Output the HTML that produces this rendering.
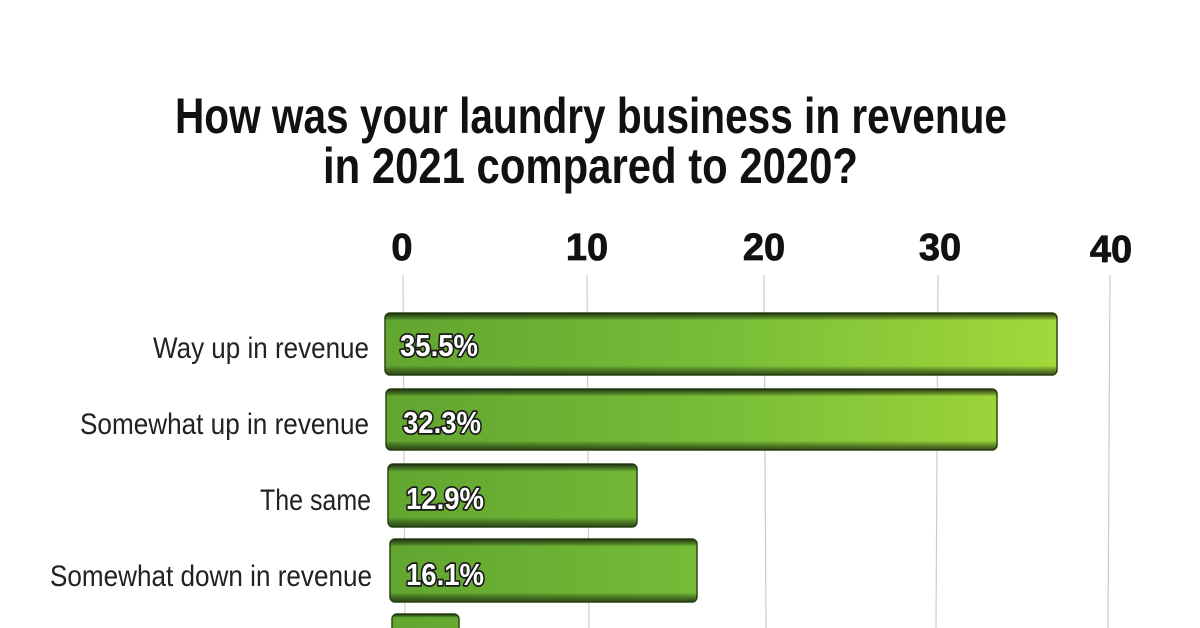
<!DOCTYPE html>
<html><head><meta charset="utf-8"><style>
html,body{margin:0;padding:0;background:#fff;width:1200px;height:628px;overflow:hidden}
</style></head><body>
<svg width="1200" height="628" viewBox="0 0 1200 628" xmlns="http://www.w3.org/2000/svg">
<defs>
<linearGradient id="g" gradientUnits="userSpaceOnUse" x1="385" y1="0" x2="1057" y2="0">
<stop offset="0" stop-color="#62a530"/><stop offset="0.5" stop-color="#78bd38"/><stop offset="1" stop-color="#a2d83a"/>
</linearGradient>
<linearGradient id="v" x1="0" y1="0" x2="0" y2="1">
<stop offset="0" stop-color="#1c2a10" stop-opacity="0.9"/><stop offset="0.12" stop-color="#000" stop-opacity="0"/>
<stop offset="0.85" stop-color="#000" stop-opacity="0"/><stop offset="1" stop-color="#203010" stop-opacity="0.8"/>
</linearGradient>
</defs>
<g font-family="Liberation Sans, sans-serif" font-weight="bold" fill="#111">
<text x="175" y="133" font-size="50" textLength="832" lengthAdjust="spacingAndGlyphs">How was your laundry business in revenue</text>
<text x="323" y="183" font-size="50" textLength="535" lengthAdjust="spacingAndGlyphs">in 2021 compared to 2020?</text>
<g font-size="38" text-anchor="middle" stroke="#111" stroke-width="0.8">
<text x="402" y="260">0</text><text x="587" y="260">10</text><text x="764" y="260">20</text><text x="940" y="260">30</text><text x="1111" y="262">40</text>
</g>
</g>
<g stroke="#ccc" stroke-width="1.2">
<line x1="403" y1="275" x2="405" y2="628"/><line x1="587" y1="275" x2="589" y2="628"/><line x1="764" y1="275" x2="766" y2="628"/><line x1="938" y1="275" x2="936" y2="628"/><line x1="1110" y1="275" x2="1108" y2="628"/>
</g>
<g font-family="Liberation Sans, sans-serif" font-size="30" fill="#222" text-anchor="end">
<text x="369" y="358" textLength="216" lengthAdjust="spacingAndGlyphs">Way up in revenue</text>
<text x="369" y="434" textLength="289" lengthAdjust="spacingAndGlyphs">Somewhat up in revenue</text>
<text x="371" y="510" textLength="111" lengthAdjust="spacingAndGlyphs">The same</text>
<text x="372" y="586" textLength="322" lengthAdjust="spacingAndGlyphs">Somewhat down in revenue</text>
</g>
<g>
<rect x="385" y="313" width="672" height="62" rx="5" fill="url(#g)" stroke="#2d4a16" stroke-width="1.5"/>
<rect x="385" y="313" width="672" height="62" rx="5" fill="url(#v)"/>
<rect x="386" y="389" width="611" height="61" rx="5" fill="url(#g)" stroke="#2d4a16" stroke-width="1.5"/>
<rect x="386" y="389" width="611" height="61" rx="5" fill="url(#v)"/>
<rect x="388" y="464" width="249" height="63" rx="5" fill="url(#g)" stroke="#2d4a16" stroke-width="1.5"/>
<rect x="388" y="464" width="249" height="63" rx="5" fill="url(#v)"/>
<rect x="390" y="539" width="307" height="63" rx="5" fill="url(#g)" stroke="#2d4a16" stroke-width="1.5"/>
<rect x="390" y="539" width="307" height="63" rx="5" fill="url(#v)"/>
<rect x="392" y="614" width="67" height="30" rx="5" fill="url(#g)" stroke="#2d4a16" stroke-width="1.5"/>
<rect x="392" y="614" width="67" height="30" rx="5" fill="url(#v)"/>
</g>
<g font-family="Liberation Sans, sans-serif" font-weight="bold" font-size="31" fill="#fff" stroke="#1a1a1a" stroke-width="3.5" paint-order="stroke" stroke-linejoin="round">
<text x="400" y="356" textLength="78" lengthAdjust="spacingAndGlyphs">35.5%</text>
<text x="403" y="433" textLength="78" lengthAdjust="spacingAndGlyphs">32.3%</text>
<text x="406" y="509" textLength="78" lengthAdjust="spacingAndGlyphs">12.9%</text>
<text x="406" y="585" textLength="78" lengthAdjust="spacingAndGlyphs">16.1%</text>
</g>
</svg>
</body></html>
